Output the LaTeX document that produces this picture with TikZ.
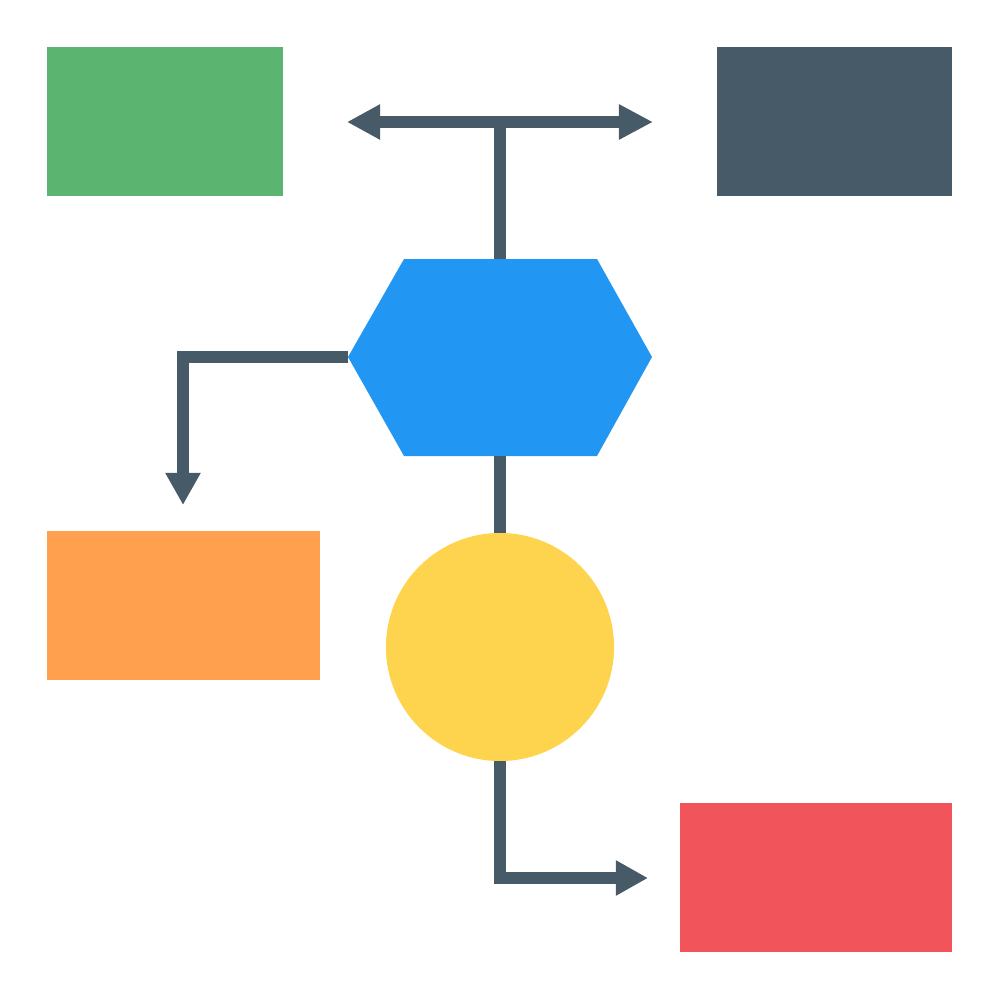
\documentclass[tikz,border=0pt]{standalone}
\usetikzlibrary{arrows.meta,positioning}

\definecolor{boxgreen}{HTML}{5BB570}
\definecolor{boxslate}{HTML}{475A68}
\definecolor{boxorange}{HTML}{FFA04E}
\definecolor{boxred}{HTML}{F2545B}
\definecolor{hexblue}{HTML}{2196F3}
\definecolor{ballyellow}{HTML}{FED44E}

\tikzset{
  box/.style={rectangle, draw=none, outer sep=0pt, inner sep=0pt,
    minimum height=1.49cm, anchor=north west},
  link/.style={draw=boxslate, line width=0.12cm, miter limit=10},
  tip/.style={-{Triangle[length=0.32cm, width=0.33cm]}},
}

\begin{document}
\begin{tikzpicture}[x=0.01cm, y=-0.01cm]
  \useasboundingbox (0,0) rectangle (1000,1000);

  % boxes
  \node[box, fill=boxgreen, minimum width=2.36cm] (green) at (47,47) {};
  \node[box, fill=boxslate, minimum width=2.35cm] (slate) at (717,47) {};
  \node[box, fill=boxorange, minimum width=2.73cm] (orange) at (47,531) {};
  \node[box, fill=boxred, minimum width=2.72cm] (red) at (680,803) {};

  % hexagon
  \coordinate (hex-top) at (500,259);
  \coordinate (hex-left) at (348,357);
  \coordinate (hex-bottom) at (500,456);
  \fill[hexblue] (404,259) -- (597,259) -- (652,357) -- (597,456)
    -- (404,456) -- (hex-left) -- cycle;

  % circle
  \node[circle, fill=ballyellow, inner sep=0pt, outer sep=0pt,
    minimum size=2.28cm] (ball) at (500,647) {};

  % arrow ends
  \coordinate (split) at (500,122);
  \coordinate (tip-w) at (347,122);
  \coordinate (tip-e) at (653,122);
  \coordinate (tip-s) at (183,505);
  \coordinate (tip-r) at (648,878);

  % connectors
  \draw[link] (hex-top) -- (split);
  \draw[link, {Triangle[length=0.33cm, width=0.33cm]}-{Triangle[length=0.34cm, width=0.33cm]}] (tip-w) -- (tip-e);
  \draw[link, tip] (hex-left) -| (tip-s);
  \draw[link] (hex-bottom) -- (ball.north);
  \draw[link, tip] (ball.south) |- (tip-r);
\end{tikzpicture}
\end{document}
